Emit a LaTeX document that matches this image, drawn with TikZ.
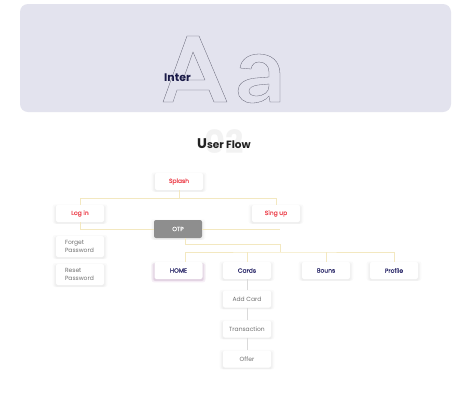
\documentclass[tikz,border=0pt]{standalone}
\usepackage{fontspec}
\setmainfont{Poppins}
\newfontfamily\popmed[FakeBold=0.6]{Poppins}
\usetikzlibrary{shadows}
\definecolor{banner}{HTML}{E3E3EE}
\definecolor{redtxt}{HTML}{EE4B55}
\definecolor{navy}{HTML}{2D2B6B}
\definecolor{graytxt}{HTML}{707070}
\definecolor{linky}{HTML}{F3E8C0}
\definecolor{linkg}{HTML}{DADADA}
\definecolor{otpfill}{HTML}{8E8E8E}
\definecolor{glyphline}{HTML}{5E5E70}
\definecolor{titlecol}{HTML}{222222}
\definecolor{intercol}{HTML}{1B1B48}
\begin{document}
\begin{tikzpicture}[x=1pt,y=-1pt,
  softshadow/.style={
    drop shadow={opacity=0.035, shadow xshift=0pt, shadow yshift=-0.5pt, shadow scale=1.14},
    drop shadow={opacity=0.045, shadow xshift=0pt, shadow yshift=-1pt, shadow scale=1.08},
    drop shadow={opacity=0.05, shadow xshift=0pt, shadow yshift=-1.2pt, shadow scale=1.03}},
  box/.style={fill=white, rounded corners=2pt, minimum width=48pt, minimum height=17pt,
    inner sep=0pt, font=\popmed\fontsize{6}{8.5}\selectfont, softshadow},
  redbox/.style={box, text=redtxt},
  navybox/.style={box, text=navy},
  graybox/.style={box, text=graytxt, font=\rmfamily\fontsize{6}{8.5}\selectfont},
  twoline/.style={graybox, minimum height=21pt, text width=30pt, align=left},
  otpbox/.style={box, fill=otpfill, text=white, minimum height=18pt},
  homebox/.style={navybox,
    drop shadow={fill=violet!50, opacity=0.12, shadow xshift=0pt, shadow yshift=-2pt, shadow scale=1.12},
    drop shadow={fill=violet!50, opacity=0.15, shadow xshift=0pt, shadow yshift=-1.5pt, shadow scale=1.05}},
  link/.style={draw=linky, line width=0.5pt},
  glink/.style={draw=linkg, line width=0.5pt},
  glyph/.style={draw=glyphline, line width=0.3pt}
]
\useasboundingbox (0,0) rectangle (474,408);
\fill[white] (0,0) rectangle (474,408);
% banner
\fill[banner, rounded corners=8pt] (20,4) rectangle (451,112);
% outlined A
\draw[glyph] (163,102) -- (187,36) -- (199,36) -- (227,102) -- (214,102) -- (209,90)
  -- (177,90) -- (173,102) -- cycle;
\draw[glyph] (183,80) -- (193,52) -- (205,80) -- cycle;
% outlined a
\draw[glyph] (280,102) -- (280,74) .. controls (280,61) and (271,54) .. (259,54)
  .. controls (248,54) and (241,60) .. (240,68) -- (251,69)
  .. controls (252,64) and (255,62) .. (259,62)
  .. controls (265,62) and (269,66) .. (269,72) -- (269,77) -- (256,78)
  .. controls (244,79) and (238,84) .. (238,91)
  .. controls (238,98) and (244,103) .. (252,103)
  .. controls (260,103) and (266,100) .. (269,96) -- (270,102) -- cycle;
\draw[glyph] (269,84) -- (258,85) .. controls (252,86) and (249,88) .. (249,91)
  .. controls (249,94) and (252,96) .. (256,96)
  .. controls (264,96) and (269,92) .. (269,86) -- cycle;
\node[font=\fontsize{11}{12}\selectfont\bfseries, text=intercol, anchor=base west, inner sep=0pt] (inter) at (164,81) {Inter};
% title
\node[font=\fontsize{32}{32}\selectfont\bfseries, text=black!5, inner sep=0pt, anchor=base] (num) at (224,153) {02};
\node[text=titlecol, font=\bfseries, inner sep=0pt] (title) at (224,144)
  {{\fontsize{14}{14}\selectfont U}{\fontsize{10.5}{12}\selectfont ser Flow}};
% nodes
\node[redbox] (splash) at (179,181.5) {Splash};
\node[redbox] (login) at (80,213.5) {Log in};
\node[redbox] (singup) at (276,213.5) {Sing up};
\node[otpbox] (otp) at (178,229) {OTP};
\node[twoline] (forget) at (80,246.5) {Forget\\Password};
\node[twoline] (reset) at (80,274.5) {Reset\\Password};
\node[homebox] (home) at (178.5,270.5) {HOME};
\node[navybox] (cards) at (247,270.5) {Cards};
\node[navybox] (bouns) at (326,270.5) {Bouns};
\node[navybox] (profile) at (394,270.5) {Profile};
\node[graybox] (addcard) at (247,299) {Add Card};
\node[graybox] (trans) at (247,329) {Transaction};
\node[graybox] (offer) at (247,359) {Offer};
% connectors
\coordinate (otpend) at (280,229);
\coordinate (b1) at (280,244);
\coordinate (b2) at (280,252);
\draw[link] (splash.south) -- ++(0,8);
\draw[link] (login.north) -- ++(0,-7) -| (singup.north);
\draw[link] (login.south) |- (otp.west);
\draw[link] (otp.east) -- (otpend);
\draw[link] ([xshift=7pt]otp.south) |- (b1) -- (b2);
\draw[link] ([xshift=6.5pt]home.north) |- (b2) -| (profile.north);
\draw[link] (cards.north) -- (cards.north |- b2);
\draw[link] (bouns.north) -- (bouns.north |- b2);
\draw[glink] (cards.south) -- (addcard.north);
\draw[glink] (addcard.south) -- (trans.north);
\draw[glink] (trans.south) -- (offer.north);
\end{tikzpicture}
\end{document}
